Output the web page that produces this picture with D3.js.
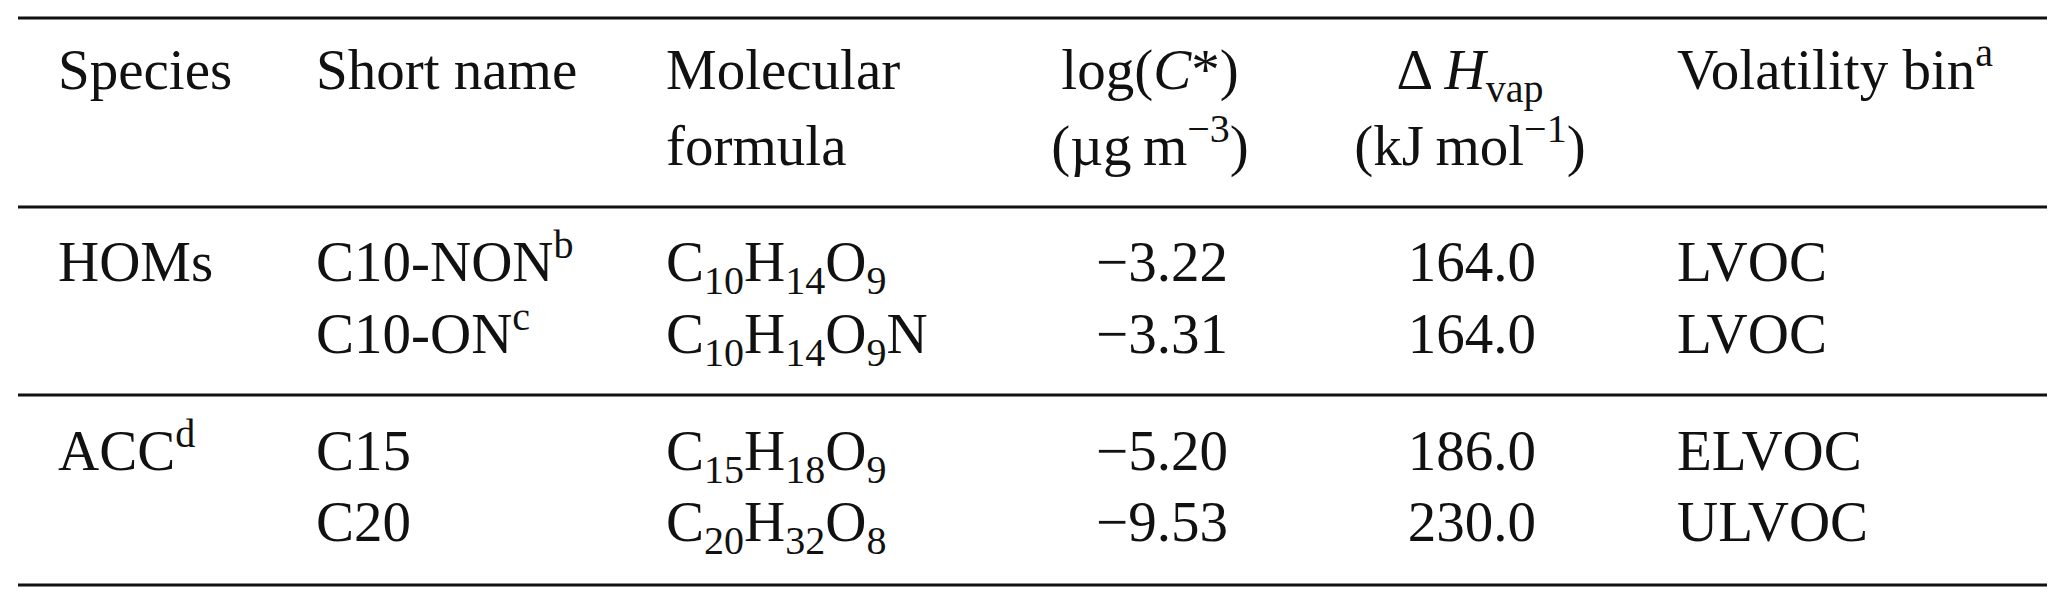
<!DOCTYPE html>
<html><head><meta charset="utf-8">
<script src="https://cdn.jsdelivr.net/npm/d3@7"></script>
<style>body{margin:0;background:#fff}text{font-family:"Liberation Serif","Times New Roman",serif;font-size:57px;fill:#111}</style>
</head><body><svg id="t" width="2067" height="603"></svg>
<script>
// each cell: list of [text, style] pieces; style: "" normal, "sub", "sup", "i" italic
const species = [[["HOMs",""]], [], [["ACC",""],["d","sup"]], []];
const shortNames = [
  [["C10-NON",""],["b","sup"]],
  [["C10-ON",""],["c","sup"]],
  [["C15",""]],
  [["C20",""]]
];
const formulas = [
  [["C",""],["10","sub"],["H",""],["14","sub"],["O",""],["9","sub"]],
  [["C",""],["10","sub"],["H",""],["14","sub"],["O",""],["9","sub"],["N",""]],
  [["C",""],["15","sub"],["H",""],["18","sub"],["O",""],["9","sub"]],
  [["C",""],["20","sub"],["H",""],["32","sub"],["O",""],["8","sub"]]
];
const logC = ["\u22123.22", "\u22123.31", "\u22125.20", "\u22129.53"];
const dHvap = ["164.0", "164.0", "186.0", "230.0"];
const bins = ["LVOC", "LVOC", "ELVOC", "ULVOC"];

const svg = d3.select("#t");
const x0 = 18, x1 = 2047;
const rules = [18, 207, 395, 585];
const rowY = d3.scaleOrdinal().domain([0,1,2,3]).range([281, 353, 470, 541]);
const hy1 = 89, hy2 = 165;

svg.selectAll("line.rule").data(rules).join("line")
  .attr("x1", x0).attr("x2", x1).attr("y1", d => d).attr("y2", d => d)
  .attr("stroke", "#111").attr("stroke-width", 3);

function put(x, y, pieces, anchor) {
  const t = svg.append("text").attr("x", x).attr("y", y).attr("text-anchor", anchor || "start");
  pieces.forEach(([s, st], i) => {
    const ts = t.append("tspan").text(s);
    const prev = i > 0 ? pieces[i-1][1] : "";
    let dy = 0;
    if (st === "sub") dy = 13; else if (st === "sup") dy = -23;
    if (prev === "sub") dy -= 13; else if (prev === "sup") dy += 23;
    if (dy) ts.attr("dy", dy);
    if (st === "sub" || st === "sup") ts.style("font-size", "40px");
    if (st === "i") ts.style("font-style", "italic");
  });
  return t;
}

// header
put(58, hy1, [["Species",""]]);
put(316, hy1, [["Short name",""]]);
put(666, hy1, [["Molecular",""]]);
put(666, hy2, [["formula",""]]);
put(1150, hy1, [["log(",""],["C","i"],["*)",""]], "middle");
put(1150, hy2, [["(\u00b5g\u2009m",""],["\u22123","sup"],[")",""]], "middle");
put(1470, hy1, [["\u0394\u2009",""],["H","i"],["vap","sub"]], "middle");
put(1470, hy2, [["(kJ\u2009mol",""],["\u22121","sup"],[")",""]], "middle");
put(1677, hy1, [["Volatility bin",""],["a","sup"]]);

// body
d3.range(4).forEach(i => {
  const y = rowY(i);
  if (species[i].length) put(58, y, species[i]);
  put(316, y, shortNames[i]);
  put(666, y, formulas[i]);
  put(1228, y, [[logC[i],""]], "end");
  put(1536, y, [[dHvap[i],""]], "end");
  put(1677, y, [[bins[i],""]]);
});
</script></body></html>
